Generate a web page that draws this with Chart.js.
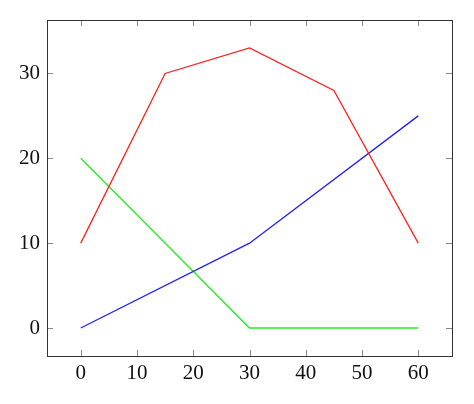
<!DOCTYPE html>
<html lang="en">
<head>
    <meta charset="UTF-8">
    <title>Line chart</title>
    <script src="https://cdn.jsdelivr.net/npm/chart.js"></script>
    <style>
        body { margin: 0; background: #fff; }
        .container { width: 474px; height: 404px; }
    </style>
</head>
<body>
    <div class="container">
        <canvas id="grafica" width="474" height="404"></canvas>
    </div>

    <script>
        // data
        const redX = [0, 15, 30, 45, 60];
        const redY = [10, 30, 33, 28, 10];
        const blueX = [0, 30, 60];
        const blueY = [0, 10, 25];
        const greenX = [0, 30, 60];
        const greenY = [20, 0, 0];
        const xTicks = [0, 10, 20, 30, 40, 50, 60];
        const yTicks = [0, 10, 20, 30];

        const pts = (xs, ys) => xs.map((x, i) => ({ x: x, y: ys[i] }));

        // small inward ticks on all four sides, like pgfplots
        const innerTicks = {
            id: 'innerTicks',
            afterDraw(chart) {
                const { ctx, chartArea: a, scales: { x, y } } = chart;
                const len = 6;
                ctx.save();
                ctx.strokeStyle = '#888';
                ctx.lineWidth = 1;
                ctx.beginPath();
                xTicks.forEach(v => {
                    const px = Math.round(x.getPixelForValue(v)) + 0.5;
                    ctx.moveTo(px, a.bottom); ctx.lineTo(px, a.bottom - len);
                    ctx.moveTo(px, a.top); ctx.lineTo(px, a.top + len);
                });
                yTicks.forEach(v => {
                    const py = Math.round(y.getPixelForValue(v)) + 0.5;
                    ctx.moveTo(a.left, py); ctx.lineTo(a.left + len, py);
                    ctx.moveTo(a.right, py); ctx.lineTo(a.right - len, py);
                });
                ctx.stroke();
                ctx.strokeStyle = '#333';
                ctx.strokeRect(a.left + 0.5, a.top + 0.5, a.right - a.left, a.bottom - a.top);
                ctx.restore();
            }
        };

        const ds = (data, color) => ({
            data: data,
            borderColor: color,
            backgroundColor: color,
            borderWidth: 1.3,
            pointRadius: 0,
            tension: 0,
            fill: false
        });

        const ctx = document.getElementById('grafica').getContext('2d');
        new Chart(ctx, {
            type: 'line',
            data: {
                datasets: [
                    ds(pts(redX, redY), '#ff2020'),
                    ds(pts(blueX, blueY), '#2020ff'),
                    ds(pts(greenX, greenY), '#20ee20')
                ]
            },
            options: {
                responsive: false,
                animation: false,
                layout: { padding: { top: 20, right: 22, left: 0, bottom: 0 } },
                plugins: { legend: { display: false }, tooltip: { enabled: false } },
                scales: {
                    x: {
                        type: 'linear',
                        min: -6,
                        max: 66,
                        afterBuildTicks: s => { s.ticks = xTicks.map(v => ({ value: v })); },
                        afterFit: s => { s.height = 48; },
                        grid: { display: false, drawTicks: false },
                        border: { display: false },
                        ticks: {
                            padding: 5,
                            color: '#111',
                            font: { family: 'Liberation Serif', size: 21 }
                        }
                    },
                    y: {
                        type: 'linear',
                        min: -3.3,
                        max: 36.3,
                        afterBuildTicks: s => { s.ticks = yTicks.map(v => ({ value: v })); },
                        afterFit: s => { s.width = 47; },
                        grid: { display: false, drawTicks: false },
                        border: { display: false },
                        ticks: {
                            padding: 7,
                            color: '#111',
                            font: { family: 'Liberation Serif', size: 21 }
                        }
                    }
                }
            },
            plugins: [innerTicks]
        });
    </script>
</body>
</html>
